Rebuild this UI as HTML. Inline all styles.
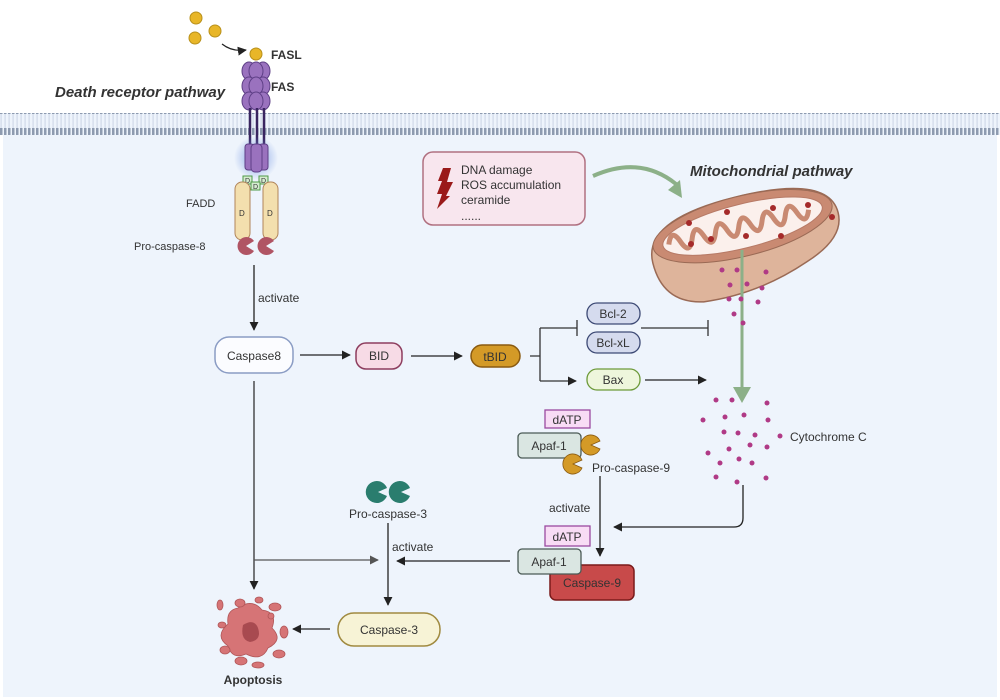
<!DOCTYPE html>
<html><head><meta charset="utf-8"><style>
html,body{margin:0;padding:0;background:#fff}
svg{display:block}
text{font-family:"Liberation Sans",sans-serif;fill:#333}
</style></head><body>
<svg width="1000" height="700" viewBox="0 0 1000 700" xmlns="http://www.w3.org/2000/svg">
<defs>
<marker id="ah" viewBox="0 0 10 10" refX="9" refY="5" markerWidth="9" markerHeight="9" markerUnits="userSpaceOnUse" orient="auto"><path d="M0,0 L10,5 L0,10z" fill="#222"/></marker>
<marker id="ahg" viewBox="0 0 10 10" refX="9" refY="5" markerWidth="9" markerHeight="9" markerUnits="userSpaceOnUse" orient="auto"><path d="M0,0 L10,5 L0,10z" fill="#555"/></marker>
<pattern id="mem" width="4" height="22" patternUnits="userSpaceOnUse">
<rect width="4" height="22" fill="#eef4fc"/>
<rect x="0" y="0" width="2.5" height="4" fill="#8e9bb0"/>
<rect x="0.5" y="4" width="1.2" height="14" fill="#d0d9e8"/>
<rect x="0" y="18" width="2.5" height="4" fill="#8e9bb0"/>
</pattern>
<radialGradient id="glow"><stop offset="0" stop-color="#6a8ee0" stop-opacity="0.8"/><stop offset="1" stop-color="#6a8ee0" stop-opacity="0"/></radialGradient>
</defs>
<rect x="3" y="113" width="994" height="584" fill="#eef4fc"/>
<rect x="0" y="113" width="1000" height="22" fill="url(#mem)"/>

<text x="55" y="97" font-size="15" font-weight="bold" font-style="italic" fill="#222">Death receptor pathway</text>
<circle cx="196" cy="18" r="6" fill="#e8b628" stroke="#b8901a"/>
<circle cx="195" cy="38" r="6" fill="#e8b628" stroke="#b8901a"/>
<circle cx="215" cy="31" r="6" fill="#e8b628" stroke="#b8901a"/>
<path d="M222,44 Q232,52 246,50" fill="none" stroke="#222" stroke-width="1.2" marker-end="url(#ah)"/>
<circle cx="256" cy="54" r="6" fill="#e8b628" stroke="#b8901a"/>
<text x="271" y="59" font-size="12" font-weight="bold" fill="#222">FASL</text>
<text x="271" y="91" font-size="12" font-weight="bold" fill="#222">FAS</text>
<g fill="#9a72be" stroke="#5e3f86" stroke-width="1">
<ellipse cx="249" cy="71" rx="7" ry="9"/><ellipse cx="263" cy="71" rx="7" ry="9"/><ellipse cx="256" cy="71" rx="7" ry="9"/>
<ellipse cx="249" cy="86" rx="7" ry="9"/><ellipse cx="263" cy="86" rx="7" ry="9"/><ellipse cx="256" cy="86" rx="7" ry="9"/>
<ellipse cx="249" cy="101" rx="7" ry="9"/><ellipse cx="263" cy="101" rx="7" ry="9"/><ellipse cx="256" cy="101" rx="7" ry="9"/>
</g>
<g stroke="#3a2560" stroke-width="2.5"><line x1="250" y1="108" x2="250" y2="148"/><line x1="257" y1="108" x2="257" y2="148"/><line x1="264" y1="108" x2="264" y2="148"/></g>
<circle cx="256" cy="158" r="22" fill="url(#glow)"/>
<g fill="#9a72be" stroke="#5e3f86"><rect x="245" y="144" width="9" height="26" rx="3"/><rect x="259" y="144" width="9" height="26" rx="3"/><rect x="251" y="144" width="11" height="28" rx="4"/></g>
<g fill="#d5ecd0" stroke="#4f9a48"><rect x="243" y="176" width="9" height="8"/><rect x="259" y="176" width="9" height="8"/><rect x="251" y="182" width="9" height="8"/></g>
<g font-size="7" fill="#333"><text x="245" y="183">D</text><text x="261" y="183">D</text><text x="253" y="189">D</text></g>
<rect x="235" y="182" width="15" height="58" rx="7" fill="#f3dfae" stroke="#b0845a"/>
<rect x="263" y="182" width="15" height="58" rx="7" fill="#f3dfae" stroke="#b0845a"/>
<text x="239" y="216" font-size="8">D</text><text x="267" y="216" font-size="8">D</text>
<text x="186" y="207" font-size="11">FADD</text>
<path d="M246,246 m8,-5 A9,9 0 1 0 254,251 L246,246z" fill="#b05464"/>
<path d="M266,246 m8,-5 A9,9 0 1 0 274,251 L266,246z" fill="#b05464"/>
<text x="134" y="250" font-size="11">Pro-caspase-8</text>
<line x1="254" y1="265" x2="254" y2="330" stroke="#222" stroke-width="1.3" marker-end="url(#ah)"/>
<text x="258" y="302" font-size="12">activate</text>

<rect x="215" y="337" width="78" height="36" rx="14" fill="#fbfcff" stroke="#8a9cc4" stroke-width="1.5"/>
<text x="254" y="360" font-size="12" text-anchor="middle">Caspase8</text>
<line x1="300" y1="355" x2="350" y2="355" stroke="#222" stroke-width="1.3" marker-end="url(#ah)"/>
<rect x="356" y="343" width="46" height="26" rx="10" fill="#f7dbe6" stroke="#8d3d5e" stroke-width="1.5"/>
<text x="379" y="360" font-size="12" text-anchor="middle">BID</text>
<line x1="411" y1="356" x2="462" y2="356" stroke="#222" stroke-width="1.3" marker-end="url(#ah)"/>
<rect x="471" y="345" width="49" height="22" rx="11" fill="#d49a27" stroke="#8a5a10" stroke-width="1.5"/>
<text x="495" y="361" font-size="12" text-anchor="middle">tBID</text>
<path d="M530,356 H540 M540,328 V381" stroke="#333" stroke-width="1.3" fill="none"/>
<path d="M540,328 H577 M577,320 V336" stroke="#333" stroke-width="1.3" fill="none"/>
<line x1="540" y1="381" x2="576" y2="381" stroke="#333" stroke-width="1.3" marker-end="url(#ah)"/>
<rect x="587" y="303" width="53" height="21" rx="10" fill="#d5dbee" stroke="#3d4a75" stroke-width="1.3"/>
<text x="613" y="318" font-size="12" text-anchor="middle">Bcl-2</text>
<rect x="587" y="332" width="53" height="21" rx="10" fill="#d5dbee" stroke="#3d4a75" stroke-width="1.3"/>
<text x="613" y="347" font-size="12" text-anchor="middle">Bcl-xL</text>
<rect x="587" y="369" width="53" height="21" rx="10" fill="#eef6dc" stroke="#6d9a3a" stroke-width="1.3"/>
<text x="613" y="384" font-size="12" text-anchor="middle">Bax</text>
<path d="M641,328 H708 M708,320 V336" stroke="#333" stroke-width="1.3" fill="none"/>
<line x1="645" y1="380" x2="706" y2="380" stroke="#222" stroke-width="1.3" marker-end="url(#ah)"/>

<rect x="423" y="152" width="162" height="73" rx="10" fill="#f8e6ee" stroke="#b07080" stroke-width="1.5"/>
<path d="M443,168 L451,168 L447,182 L453,182 L446,196 L450,196 L437,209 L442,194 L437,194 L442,181 L438,181z" fill="#9a1a1a"/>
<text x="461" y="174" font-size="12">DNA damage</text>
<text x="461" y="189" font-size="12">ROS accumulation</text>
<text x="461" y="204" font-size="12">ceramide</text>
<text x="461" y="220" font-size="12">......</text>
<path d="M593,176 Q640,155 676,184" fill="none" stroke="#8cb088" stroke-width="4"/>
<path d="M668,190 L682,198 L680,180z" fill="#8cb088"/>
<text x="690" y="176" font-size="15" font-weight="bold" font-style="italic" fill="#222">Mitochondrial pathway</text>

<g transform="rotate(-14 745 240)">
<path d="M650,240 Q650,196 745,196 Q842,196 842,236 Q842,262 800,276 Q745,296 690,290 Q650,282 650,240z" fill="#deb49b" stroke="#9a6a55" stroke-width="1.5"/>
<ellipse cx="746" cy="226" rx="92" ry="30" fill="#c98a72" stroke="#9a6a55"/>
<ellipse cx="746" cy="226" rx="82" ry="22" fill="#fbf0ec" stroke="#b77a66"/>
<path d="M670,226 q6,-16 12,0 t12,0 t12,0 t12,0 t12,0 t12,0 t12,0 t12,0 t12,0 t12,0 t12,0 t12,0" fill="none" stroke="#c98a72" stroke-width="5"/>
</g>
<g fill="#a52a2a"><circle cx="689" cy="223" r="3"/><circle cx="727" cy="212" r="3"/><circle cx="773" cy="208" r="3"/><circle cx="808" cy="205" r="3"/><circle cx="832" cy="217" r="3"/><circle cx="691" cy="244" r="3"/><circle cx="711" cy="239" r="3"/><circle cx="746" cy="236" r="3"/><circle cx="781" cy="236" r="3"/></g>
<line x1="742" y1="250" x2="742" y2="390" stroke="#8cb088" stroke-width="3"/>
<path d="M733,387 L742,403 L751,387z" fill="#8cb088"/>
<g fill="#b03a86">
<circle cx="722" cy="270" r="2.5"/><circle cx="737" cy="270" r="2.5"/><circle cx="766" cy="272" r="2.5"/><circle cx="730" cy="285" r="2.5"/><circle cx="747" cy="284" r="2.5"/><circle cx="762" cy="288" r="2.5"/><circle cx="729" cy="299" r="2.5"/><circle cx="741" cy="299" r="2.5"/><circle cx="758" cy="302" r="2.5"/><circle cx="734" cy="314" r="2.5"/><circle cx="743" cy="323" r="2.5"/>
<circle cx="716" cy="400" r="2.5"/><circle cx="732" cy="400" r="2.5"/><circle cx="767" cy="403" r="2.5"/><circle cx="703" cy="420" r="2.5"/><circle cx="725" cy="417" r="2.5"/><circle cx="744" cy="415" r="2.5"/><circle cx="768" cy="420" r="2.5"/><circle cx="724" cy="432" r="2.5"/><circle cx="738" cy="433" r="2.5"/><circle cx="755" cy="435" r="2.5"/><circle cx="780" cy="436" r="2.5"/><circle cx="708" cy="453" r="2.5"/><circle cx="729" cy="449" r="2.5"/><circle cx="750" cy="445" r="2.5"/><circle cx="720" cy="463" r="2.5"/><circle cx="739" cy="459" r="2.5"/><circle cx="752" cy="463" r="2.5"/><circle cx="767" cy="447" r="2.5"/><circle cx="716" cy="477" r="2.5"/><circle cx="737" cy="482" r="2.5"/><circle cx="766" cy="478" r="2.5"/>
</g>
<text x="790" y="441" font-size="12">Cytochrome C</text>
<path d="M743,485 V518 Q743,527 734,527 H614" fill="none" stroke="#222" stroke-width="1.3" marker-end="url(#ah)"/>

<rect x="545" y="410" width="45" height="18" fill="#f8dcf5" stroke="#9a4aa0" stroke-width="1.3"/>
<text x="567" y="424" font-size="12" text-anchor="middle">dATP</text>
<rect x="518" y="433" width="63" height="25" rx="4" fill="#dae6e2" stroke="#4a5a55" stroke-width="1.3"/>
<text x="549" y="450" font-size="12" text-anchor="middle">Apaf-1</text>
<path d="M591,445 m9,-4 A10,10 0 1 0 600,449 L591,445z" fill="#d49a27" stroke="#8a5a10" stroke-width="0.8"/>
<path d="M573,464 m9,-4 A10,10 0 1 0 582,468 L573,464z" fill="#d49a27" stroke="#8a5a10" stroke-width="0.8"/>
<text x="592" y="472" font-size="12">Pro-caspase-9</text>
<line x1="600" y1="476" x2="600" y2="556" stroke="#222" stroke-width="1.3" marker-end="url(#ah)"/>
<text x="549" y="512" font-size="12">activate</text>
<rect x="550" y="565" width="84" height="35" rx="6" fill="#c84a4a" stroke="#7a1a1a" stroke-width="1.5"/>
<text x="592" y="587" font-size="12" text-anchor="middle" fill="#5a1010">Caspase-9</text>
<rect x="545" y="526" width="45" height="20" fill="#f8dcf5" stroke="#9a4aa0" stroke-width="1.3"/>
<text x="567" y="541" font-size="12" text-anchor="middle">dATP</text>
<rect x="518" y="549" width="63" height="25" rx="4" fill="#dae6e2" stroke="#4a5a55" stroke-width="1.3"/>
<text x="549" y="566" font-size="12" text-anchor="middle">Apaf-1</text>
<line x1="510" y1="561" x2="397" y2="561" stroke="#222" stroke-width="1.3" marker-end="url(#ah)"/>

<line x1="254" y1="381" x2="254" y2="589" stroke="#333" stroke-width="1.3" marker-end="url(#ah)"/>
<line x1="254" y1="560" x2="378" y2="560" stroke="#555" stroke-width="1.3" marker-end="url(#ahg)"/>
<path d="M378,492 m9,-4 A11,11 0 1 0 387,496 L378,492z" fill="#2a7d6e"/>
<path d="M401,492 m9,-4 A11,11 0 1 0 410,496 L401,492z" fill="#2a7d6e"/>
<text x="388" y="518" font-size="12" text-anchor="middle">Pro-caspase-3</text>
<line x1="388" y1="523" x2="388" y2="605" stroke="#222" stroke-width="1.3" marker-end="url(#ah)"/>
<text x="392" y="551" font-size="12">activate</text>
<rect x="338" y="613" width="102" height="33" rx="16" fill="#f7f3d6" stroke="#a08a40" stroke-width="1.5"/>
<text x="389" y="634" font-size="12" text-anchor="middle">Caspase-3</text>
<line x1="330" y1="629" x2="293" y2="629" stroke="#222" stroke-width="1.3" marker-end="url(#ah)"/>

<g fill="#d67476" stroke="#b05658" stroke-width="0.8">
<path d="M238,608 Q252,598 262,610 Q278,612 272,628 Q284,640 268,648 Q262,662 246,654 Q232,660 228,646 Q214,636 228,624 Q226,610 238,608z"/>
<ellipse cx="220" cy="605" rx="3" ry="5"/><ellipse cx="240" cy="603" rx="5" ry="4"/><ellipse cx="259" cy="600" rx="4" ry="3"/><ellipse cx="275" cy="607" rx="6" ry="4"/><ellipse cx="222" cy="625" rx="4" ry="3"/><ellipse cx="284" cy="632" rx="4" ry="6"/><ellipse cx="225" cy="650" rx="5" ry="4"/><ellipse cx="279" cy="654" rx="6" ry="4"/><ellipse cx="258" cy="665" rx="6" ry="3"/><ellipse cx="241" cy="661" rx="6" ry="4"/><ellipse cx="271" cy="616" rx="3" ry="3"/>
</g>
<path d="M243,625 Q254,618 258,628 Q262,640 250,642 Q240,640 243,625z" fill="#a84a50"/>
<text x="253" y="684" font-size="12" font-weight="bold" text-anchor="middle" fill="#222">Apoptosis</text>
</svg>
</body></html>
